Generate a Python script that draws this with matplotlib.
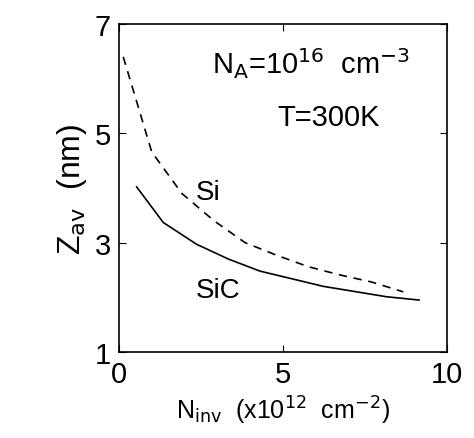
import matplotlib
matplotlib.use("Agg")
import matplotlib.pyplot as plt

si_x = [0.13, 1.0, 1.92, 2.88, 3.85, 4.81, 5.78, 6.74, 7.71, 8.68]
si_y = [6.40, 4.66, 3.90, 3.41, 3.00, 2.77, 2.56, 2.41, 2.28, 2.10]
sic_x = [0.54, 1.35, 2.37, 3.34, 4.3, 6.24, 8.17, 9.16]
sic_y = [4.02, 3.37, 2.97, 2.70, 2.48, 2.20, 2.01, 1.95]

plt.rcParams['font.family'] = ['Liberation Sans', 'DejaVu Sans']
fig = plt.figure(figsize=(4.74, 4.39), dpi=100)
ax = fig.add_axes([0.251, 0.196, 0.691, 0.747])
ax.plot(si_x, si_y, 'k--', lw=1.2, dashes=(5, 4))
ax.plot(sic_x, sic_y, 'k-', lw=1.2)
ax.set_xlim(0, 10)
ax.set_ylim(1, 7)
ax.set_xticks([0, 5, 10])
ax.set_yticks([1, 3, 5, 7])
ax.tick_params(direction='in', top=True, right=True, labelsize=21, length=5, pad=6)
for s in ax.spines.values():
    s.set_linewidth(1.2)
ax.set_xlabel(r'N$_{\rm inv}$  (x10$^{12}$  cm$^{-2}$)', fontsize=18)
ax.set_ylabel(r'Z$_{\rm av}$  (nm)', fontsize=23)
ax.text(2.85, 6.1, r'N$_{\rm A}$=10$^{16}$  cm$^{-3}$', fontsize=21)
ax.text(4.85, 5.15, 'T=300K', fontsize=21)
ax.text(2.35, 3.8, 'Si', fontsize=20)
ax.text(2.35, 2.0, 'SiC', fontsize=20)
fig.savefig('out.png', dpi=100)
